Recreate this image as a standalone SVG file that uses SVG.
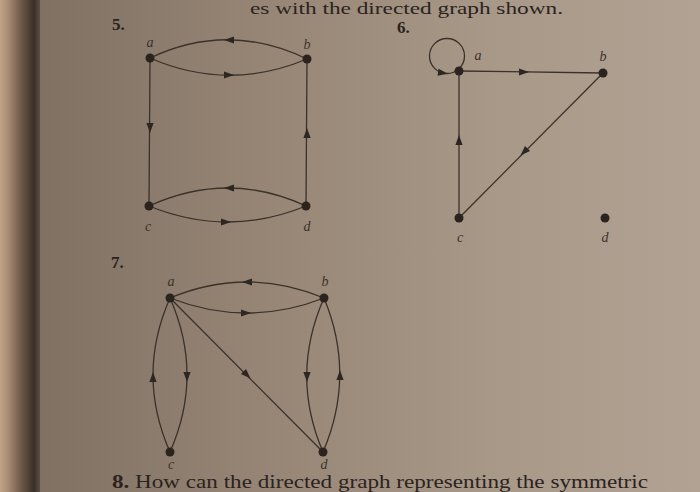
<svg xmlns="http://www.w3.org/2000/svg" xmlns:xlink="http://www.w3.org/1999/xlink" width="700" height="492" viewBox="0 0 700 492">
<defs>
<linearGradient id="page" x1="0" y1="0" x2="1" y2="0">
<stop offset="0" stop-color="#7c6d60"/>
<stop offset="0.35" stop-color="#958474"/>
<stop offset="0.7" stop-color="#a89888"/>
<stop offset="1" stop-color="#b2a293"/>
</linearGradient>
<linearGradient id="gutter" x1="0" y1="0" x2="1" y2="0">
<stop offset="0" stop-color="#c2a488"/>
<stop offset="0.2" stop-color="#a88c74"/>
<stop offset="0.55" stop-color="#6a5646"/>
<stop offset="0.85" stop-color="#3a2f27"/>
<stop offset="1" stop-color="#5c4e42"/>
</linearGradient>
<path id="arr" d="M5,0 L-5,-3.6 L-5,3.6 Z"/>
</defs>
<style>
.e{fill:none;stroke:#3a312a;stroke-width:1.3}
.n{fill:#2a231e}
.ah{fill:#2e2620}
.lb{font-family:"Liberation Serif",serif;font-style:italic;font-size:14px;fill:#3a322b;text-anchor:middle}
.num{font-family:"Liberation Serif",serif;font-weight:bold;font-size:17px;fill:#2a231e}
.txt{font-family:"Liberation Serif",serif;fill:#2a231e}
</style>
<rect x="0" y="0" width="700" height="492" fill="url(#page)"/>
<rect x="0" y="0" width="40" height="492" fill="url(#gutter)"/>
<text class="txt" x="250" y="14" font-size="17" textLength="313" lengthAdjust="spacingAndGlyphs">es with the directed graph shown.</text>
<text class="num" x="112" y="30">5.</text>
<text class="num" x="397" y="33">6.</text>
<text class="num" x="111" y="268">7.</text>
<text class="txt" x="112" y="488" font-size="18" textLength="536" lengthAdjust="spacingAndGlyphs"><tspan font-weight="bold">8.</tspan> How can the directed graph representing the symmetric</text>
<g id="connectors">
<!-- graph 5 -->
<path class="e" d="M150,58 Q228,92 307,59"/>
<path class="e" d="M307,59 Q228,21 150,58"/>
<path class="e" d="M150,58 L149,206"/>
<path class="e" d="M306,206 L307,59"/>
<path class="e" d="M149,206 Q228,170 306,206"/>
<path class="e" d="M149,206 Q228,238 306,206"/>
<use href="#arr" class="ah" transform="translate(229,75)"/>
<use href="#arr" class="ah" transform="translate(229,40) rotate(180)"/>
<use href="#arr" class="ah" transform="translate(150,128) rotate(90)"/>
<use href="#arr" class="ah" transform="translate(307,133) rotate(-90)"/>
<use href="#arr" class="ah" transform="translate(229,188) rotate(180)"/>
<use href="#arr" class="ah" transform="translate(226,222)"/>
<!-- graph 6 -->
<circle class="e" cx="447" cy="56" r="17.5"/>
<path class="e" d="M459,71 L603,73"/>
<path class="e" d="M603,73 L459,218"/>
<path class="e" d="M459,218 L459,71"/>
<use href="#arr" class="ah" transform="translate(443,73) rotate(8)"/>
<use href="#arr" class="ah" transform="translate(524,72)"/>
<use href="#arr" class="ah" transform="translate(524,152) rotate(135)"/>
<use href="#arr" class="ah" transform="translate(459,140) rotate(-90)"/>
<!-- graph 7 -->
<path class="e" d="M324,298 Q247,266 170,298"/>
<path class="e" d="M170,298 Q247,328 324,298"/>
<path class="e" d="M170,452 Q136,375 170,298"/>
<path class="e" d="M170,298 Q204,375 170,452"/>
<path class="e" d="M324,298 Q290,375 323,452"/>
<path class="e" d="M323,452 Q356,375 324,298"/>
<path class="e" d="M170,298 L323,452"/>
<use href="#arr" class="ah" transform="translate(247,282) rotate(180)"/>
<use href="#arr" class="ah" transform="translate(246,313)"/>
<use href="#arr" class="ah" transform="translate(153,377) rotate(-90)"/>
<use href="#arr" class="ah" transform="translate(187,377) rotate(90)"/>
<use href="#arr" class="ah" transform="translate(307,377) rotate(90)"/>
<use href="#arr" class="ah" transform="translate(340,375) rotate(-90)"/>
<use href="#arr" class="ah" transform="translate(247,375) rotate(45)"/>
</g>
<g id="g5-a"><circle class="n" cx="150" cy="58" r="4.5"/><text class="lb" x="150" y="47">a</text></g>
<g id="g5-b"><circle class="n" cx="307" cy="59" r="4.5"/><text class="lb" x="307" y="49">b</text></g>
<g id="g5-c"><circle class="n" cx="149" cy="206" r="4.5"/><text class="lb" x="148" y="231">c</text></g>
<g id="g5-d"><circle class="n" cx="306" cy="206" r="4.5"/><text class="lb" x="307" y="231">d</text></g>
<g id="g6-a"><circle class="n" cx="459" cy="71" r="4.5"/><text class="lb" x="478" y="60">a</text></g>
<g id="g6-b"><circle class="n" cx="603" cy="73" r="4.5"/><text class="lb" x="603" y="61">b</text></g>
<g id="g6-c"><circle class="n" cx="459" cy="218" r="4.5"/><text class="lb" x="460" y="242">c</text></g>
<g id="g6-d"><circle class="n" cx="605" cy="218" r="4.5"/><text class="lb" x="605" y="242">d</text></g>
<g id="g7-a"><circle class="n" cx="170" cy="298" r="4.5"/><text class="lb" x="171" y="286">a</text></g>
<g id="g7-b"><circle class="n" cx="324" cy="298" r="4.5"/><text class="lb" x="325" y="286">b</text></g>
<g id="g7-c"><circle class="n" cx="170" cy="452" r="4.5"/><text class="lb" x="171" y="469">c</text></g>
<g id="g7-d"><circle class="n" cx="323" cy="452" r="4.5"/><text class="lb" x="324" y="469">d</text></g>
</svg>
